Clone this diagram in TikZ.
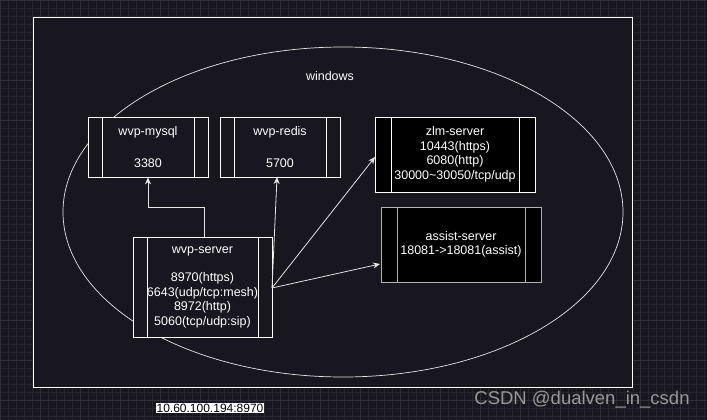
\documentclass[tikz,border=0pt]{standalone}
\usepackage{fontspec}
\setmainfont{Liberation Sans}
\usetikzlibrary{arrows.meta}
\definecolor{bg}{HTML}{18161E}
\definecolor{gridc}{HTML}{26242C}
\definecolor{gridm}{HTML}{302E36}
\tikzset{
  proc/.style={draw=white, fill=black, line width=0.8pt, minimum width=#1, text=white, font=\fontsize{12.5}{14.5}\selectfont, align=center, inner sep=0pt},
  conn/.style={draw=white!90!black, line width=0.8pt, -{Stealth[length=7pt,width=6pt]}},
}
\begin{document}
\begin{tikzpicture}[x=1pt,y=-1pt]
\fill[bg] (0,0) rectangle (707,420);
\useasboundingbox (0,0) rectangle (707,420);
\draw[gridc,line width=0.4pt] (0,0) grid[step=8pt] (707,420);
\draw[gridm,line width=0.5pt] (0,0) grid[step=40pt] (707,420);
\draw[white, line width=0.8pt, fill=bg] (33,17) rectangle (632,387);
\draw[white!90!black, line width=0.7pt] (343,212) ellipse [x radius=280, y radius=165];
\node[text=white, font=\fontsize{12.5}{14}\selectfont] (win) at (330,76) {windows};
% boxes
\node[proc=120pt, minimum height=60pt, fill=bg] (mysql) at (148,147) {wvp-mysql\\[17pt]3380};
\draw[white,line width=0.8pt] (102,117) -- (102,177) (194,117) -- (194,177);
\node[proc=120pt, minimum height=60pt, fill=bg] (redis) at (280,147) {wvp-redis\\[17pt]5700};
\draw[white,line width=0.8pt] (234,117) -- (234,177) (326,117) -- (326,177);
\node[proc=160pt, minimum height=75pt] (zlm) at (455,154.5) {zlm-server\\10443(https)\\6080(http)\\30000\textasciitilde30050/tcp/udp};
\draw[white,line width=0.8pt] (391,117) -- (391,192) (519,117) -- (519,192);
\node[proc=160pt, minimum height=75pt, draw=white!70!black] (assist) at (461,244.5) {assist-server\\18081->18081(assist)};
\draw[white!70!black,line width=0.8pt] (397,207) -- (397,282) (525,207) -- (525,282);
\node[proc=139pt, minimum height=100pt, fill=bg] (wvp) at (202.5,287) {wvp-server\\[14pt]8970(https)\\6643(udp/tcp:mesh)\\8972(http)\\5060(tcp/udp:sip)};
\draw[white,line width=0.8pt] (147,237) -- (147,337) (258,237) -- (258,337);
% connectors
\coordinate (o) at (272,288);
\draw[conn] (204,237) -- (204,207) -- (148,207) -- (mysql.south);
\draw[conn] (o) -- (277,177);
\draw[conn] (o) -- (375,157);
\draw[conn] (o) -- (380,264);
\node[fill=white, text=black, font=\fontsize{12}{14}\selectfont, inner sep=1pt] (ip) at (210,408) {10.60.100.194:8970};
\node[text=white!60!black, font=\fontsize{18.5}{20}\selectfont] (wm) at (582,400) {CSDN @dualven\_in\_csdn};
\end{tikzpicture}
\end{document}
